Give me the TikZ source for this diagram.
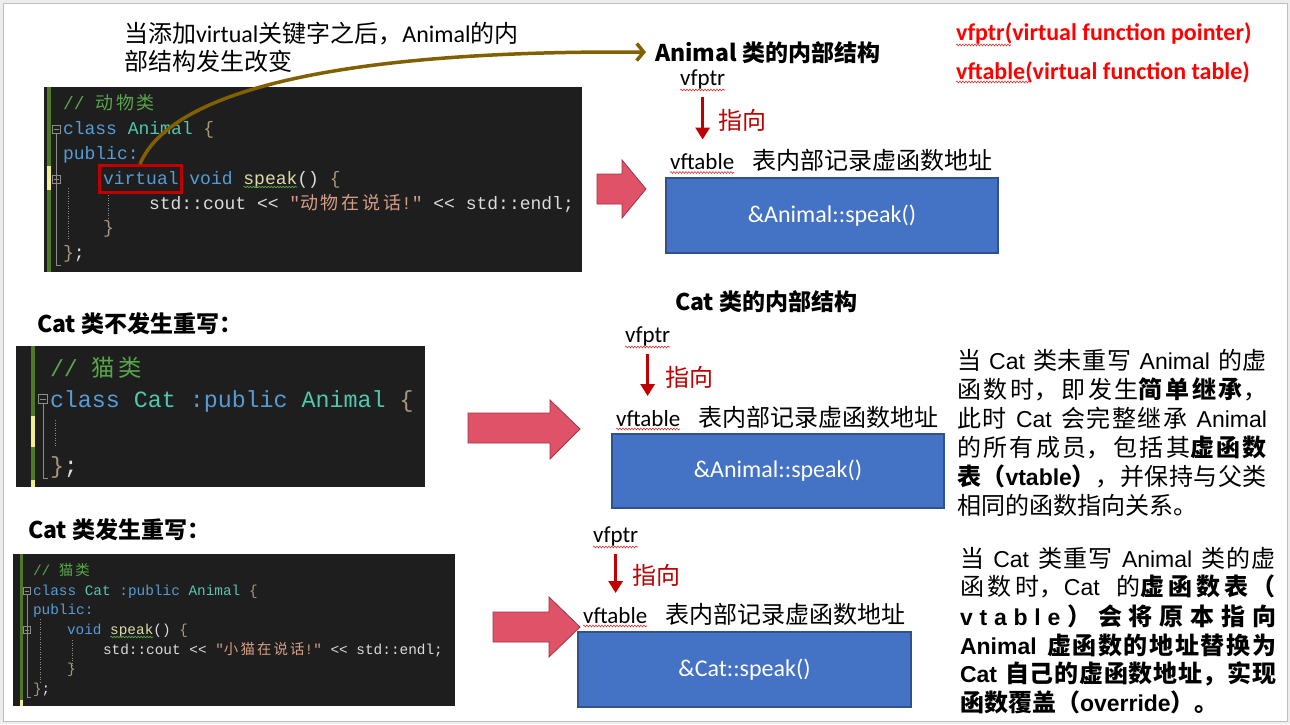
\documentclass[tikz,border=0pt]{standalone}
\usepackage{fontspec}
\usetikzlibrary{arrows.meta,decorations.pathmorphing}
\newfontfamily\zhfont{Noto Sans CJK SC}
\newfontfamily\zhp[Scale=1.0435]{Noto Sans CJK SC}
\newfontfamily\arialf{Liberation Sans}
\newfontfamily\calf{Carlito}
\newfontfamily\monof{Liberation Mono}
\newfontfamily\monozh[LetterSpace=15]{Noto Sans CJK SC}

\definecolor{outerbg}{HTML}{EDEDED}
\definecolor{framegray}{HTML}{BFBFBF}
\definecolor{codebg}{HTML}{1E1E1E}
\definecolor{ccom}{HTML}{57A64A}
\definecolor{ckw}{HTML}{569CD6}
\definecolor{ctype}{HTML}{4EC9B0}
\definecolor{cfun}{HTML}{DCDCAA}
\definecolor{cstr}{HTML}{D69D85}
\definecolor{ctxt}{HTML}{DCDCDC}
\definecolor{cbrace}{HTML}{A8987A}
\definecolor{barGreen}{HTML}{4E7A27}
\definecolor{hlYellow}{HTML}{EFEF91}
\definecolor{foldgray}{HTML}{8C8C8C}
\definecolor{darkred}{HTML}{C00000}
\definecolor{arrowolive}{HTML}{806000}
\definecolor{blockpink}{HTML}{E05268}
\definecolor{blockedge}{HTML}{A33244}
\definecolor{boxblue}{HTML}{4472C4}
\definecolor{boxedge}{HTML}{2F528F}
\definecolor{brightred}{HTML}{FF0000}
\definecolor{squigred}{HTML}{E03030}

\newcommand\zh[1]{{\zhp #1}}
\newcommand\gap{\nobreak\hskip 6pt plus 8pt minus 2.5pt\relax}
\newcommand\jl[2]{\parbox[b]{#1}{\tolerance=10000\relax\XeTeXlinebreaklocale "zh"\XeTeXlinebreakskip=0pt plus 3pt minus 1pt\relax\XeTeXlinebreakpenalty=10000\relax\parfillskip=0pt\relax\noindent #2}}
\newcommand\ckw[1]{\textcolor{ckw}{#1}}
\newcommand\cty[1]{\textcolor{ctype}{#1}}
\newcommand\cbr[1]{\textcolor{cbrace}{#1}}
\newcommand\ccm[1]{\textcolor{ccom}{#1}}
\newcommand\cst[1]{\textcolor{cstr}{#1}}

\tikzset{
  lbl/.style={anchor=base west, inner sep=0pt, outer sep=0pt},
  zhlbl/.style={lbl, font=\zhfont\fontsize{24}{24}\selectfont},
  headlbl/.style={lbl, font=\zhfont\bfseries\fontsize{23}{23}\selectfont},
  vflbl/.style={lbl, font=\calf\fontsize{23}{23}\selectfont},
  pointlbl/.style={lbl, font=\zhfont\fontsize{24}{24}\selectfont, text=darkred},
  redlbl/.style={lbl, font=\calf\bfseries\fontsize{24}{24}\selectfont, text=brightred},
  para/.style={lbl, font=\arialf\fontsize{23}{29}\selectfont},
  codeA/.style={lbl, font=\monof\fontsize{18}{18}\selectfont, text=ctxt},
  codeB/.style={lbl, font=\monof\fontsize{23.3}{23.3}\selectfont, text=ctxt},
  codeC/.style={lbl, font=\monof\fontsize{14.4}{14.4}\selectfont, text=ctxt},
  greenbar/.style={fill=barGreen},
  yellowbar/.style={fill=hlYellow},
  foldbox/.style={draw=foldgray, line width=0.7pt, minimum size=#1, inner sep=0pt,
    path picture={\draw[foldgray, line width=0.7pt] ([xshift=1.5pt]path picture bounding box.west) -- ([xshift=-1.5pt]path picture bounding box.east);}},
  foldline/.style={draw=foldgray, line width=0.7pt},
  guide/.style={draw=foldgray, line width=0.6pt, dash pattern=on 1pt off 1.5pt},
  ptr/.style={draw=darkred, line width=3pt, -{Triangle[length=12pt,width=14pt]}, shorten <=8pt, shorten >=14pt},
  curvearrow/.style={draw=arrowolive, line width=3.5pt, -{Straight Barb[length=7pt,width=17pt]}, shorten >=9pt},
  blockarrow/.style={fill=blockpink, draw=blockedge, line width=0.8pt},
  tablebox/.style={draw=boxedge, line width=1.2pt, fill=boxblue, text=white, font=\calf\fontsize{24}{24}\selectfont, inner sep=0pt},
  sqred/.style={draw=squigred, line width=0.6pt, decorate, decoration={snake, amplitude=0.9pt, segment length=3pt}},
  sqgreen/.style={draw=ccom, line width=0.6pt, decorate, decoration={snake, amplitude=0.8pt, segment length=3pt}},
  virtbox/.style={draw=darkred, line width=3pt, minimum width=82pt, minimum height=27pt, inner sep=0pt}
}

\begin{document}
\begin{tikzpicture}[x=1pt,y=-1pt]
\useasboundingbox (0,0) rectangle (1290,724);
\fill[outerbg] (0,0) rectangle (1290,724);
\draw[framegray, fill=white, line width=1pt] (3,3) rectangle (1287,721);

% ---------- top-left note ----------
\node[zhlbl] (intro1) at (124,42) {当添加{\calf virtual}关键字之后，{\calf Animal}的内};
\node[zhlbl] (intro2) at (124,70) {部结构发生改变};

% ---------- code block 1 ----------
\fill[codebg] (44,87) rectangle (582,272);
\path[greenbar] (47,87) rectangle (51,272);
\path[yellowbar] (47,166) rectangle (51,190);
\node[codeA] (a1) at (63,109) {\ccm{// {\monozh 动物类}}};
\node[codeA] (a2) at (63,134) {\ckw{class} \cty{Animal} \cbr{\{}};
\node[codeA] (a3) at (63,159) {\ckw{public:}};
\node[codeA] (a4) at (103,184) {\ckw{virtual void}};
\node[codeA, text=cfun] (a4s) at ([xshift=10.8pt]a4.base east) {speak};
\node[codeA] (a4r) at (a4s.base east) {() \cbr{\{}};
\node[codeA] (a5) at (149,209) {std::cout << \cst{"{\monozh 动物在说话}!"} << std::endl;};
\node[codeA] (a6) at (103,233) {\cbr{\}}};
\node[codeA] (a7) at (63,258) {\cbr{\}};};
\node[foldbox=8pt] (af1) at (56,129) {};
\node[foldbox=8pt] (af2) at (56,179) {};
\draw[foldline] (af1.south) -- (56,265) -- (61,265);
\draw[guide] (68,188) -- (68,240);
\draw[guide] (108,195) -- (108,218);
\draw[sqgreen] ([yshift=-3pt]a4s.base west) -- ([yshift=-3pt]a4s.base east);
\node[virtbox] (vbox) at (140,179) {};

% ---------- Animal structure ----------
\node[headlbl] (h1) at (655,61) {Animal 类的内部结构};
\draw[curvearrow] (vbox.north) .. controls (172,88) and (350,50) .. (h1.west);
\node[vflbl] (vp1) at (680,85) {vfptr};
\node[pointlbl] (zx1) at (718,129) {指向};
\node[vflbl] (vt1) at (670,169.5) {vftable};
\node[zhlbl] (vd1) at (752,169.5) {表内部记录虚函数地址};
\draw[ptr] (vp1.south) -- (vp1.south |- vt1.north);
\draw[sqred] ([yshift=-5pt]vp1.base west) -- ([yshift=-5pt]vp1.base east);
\draw[sqred] ([yshift=-3pt]vt1.base west) -- ([yshift=-3pt]vt1.base east);
\node[tablebox, minimum width=332pt, minimum height=75pt] (t1) at (832,215.5) {\&Animal::speak()};
\draw[blockarrow] (597,174) -- (622,174) -- (622,160) -- (646,189) -- (622,218) -- (622,204) -- (597,204) -- cycle;

% ---------- top-right red notes ----------
\node[redlbl] (rp1) at (956,40) {vfptr};
\node[redlbl] (rp2) at (rp1.base east) {(virtual function pointer)};
\node[redlbl] (rt1) at (956,79) {vftable};
\node[redlbl] (rt2) at (rt1.base east) {(virtual function table)};
\draw[sqred] ([yshift=-5pt]rp1.base west) -- ([yshift=-5pt,xshift=6pt]rp1.base east);
\draw[sqred] ([yshift=-3pt]rt1.base west) -- ([yshift=-3pt,xshift=6pt]rt1.base east);

% ---------- Cat, no override ----------
\node[headlbl] (l1) at (37,332) {Cat 类不发生重写：};
\fill[codebg] (16,346) rectangle (425,487);
\path[greenbar] (31,346) rectangle (35,487);
\path[yellowbar] (31,416) rectangle (35,447);
\path[yellowbar] (31,480) rectangle (35,487);
\node[codeB] (b1) at (50,376) {\ccm{// {\monozh 猫类}}};
\node[codeB] (b2) at (50,407) {\ckw{class} \cty{Cat} \ckw{:public} \cty{Animal} \cbr{\{}};
\node[codeB] (b3) at (50,473) {\cbr{\}};};
\node[foldbox=9pt] (bf1) at (43,399) {};
\draw[foldline] (bf1.south) -- (43,478) -- (48,478);
\draw[guide] (55,420) -- (55,447);

\node[headlbl] (h2) at (675,310) {Cat 类的内部结构};
\node[vflbl] (vp2) at (625,342) {vfptr};
\node[pointlbl] (zx2) at (665,386) {指向};
\node[vflbl] (vt2) at (616,426) {vftable};
\node[zhlbl] (vd2) at (698,426) {表内部记录虚函数地址};
\draw[ptr] (vp2.south) -- (vp2.south |- vt2.north);
\draw[sqred] ([yshift=-5pt]vp2.base west) -- ([yshift=-5pt]vp2.base east);
\draw[sqred] ([yshift=-3pt]vt2.base west) -- ([yshift=-3pt]vt2.base east);
\node[tablebox, minimum width=332pt, minimum height=74pt] (t2) at (778,471) {\&Animal::speak()};
\draw[blockarrow] (468,413) -- (550,413) -- (550,400) -- (580,429) -- (550,459) -- (550,443) -- (468,443) -- cycle;

\node[para] (p1a) at (957,369) {\jl{310pt}{\zh{当}\gap Cat\gap\zh{类未重写}\gap Animal\gap\zh{的虚}}};
\node[para] (p1b) at (957,398) {\jl{310pt}{\zh{函数时，即发生\textbf{简单继承}，}}};
\node[para] (p1c) at (957,427) {\jl{310pt}{\zh{此时}\gap Cat\gap\zh{会完整继承}\gap Animal}};
\node[para] (p1d) at (957,456) {\jl{310pt}{\zh{的所有成员，包括其\textbf{虚函数}}}};
\node[para] (p1e) at (957,485) {\jl{310pt}{\textbf{\zh{表（}vtable\zh{）}}\zh{，并保持与父类}}};
\node[para] (p1f) at (957,514) {\zh{相同的函数指向关系。}};

% ---------- Cat, override ----------
\node[headlbl] (l2) at (28,538) {Cat 类发生重写：};
\fill[codebg] (13,554) rectangle (455,706);
\path[greenbar] (20,554) rectangle (23,706);
\path[yellowbar] (20,700) rectangle (23,706);
\node[codeC] (c1) at (33,575) {\ccm{// {\monozh 猫类}}};
\node[codeC] (c2) at (33,595.5) {\ckw{class} \cty{Cat} \ckw{:public} \cty{Animal} \cbr{\{}};
\node[codeC] (c3) at (33,614.5) {\ckw{public:}};
\node[codeC] (c4) at (67,634.5) {\ckw{void}};
\node[codeC, text=cfun] (c4s) at ([xshift=8.64pt]c4.base east) {speak};
\node[codeC] (c4r) at (c4s.base east) {() \cbr{\{}};
\node[codeC] (c5) at (103,654.5) {std::cout << \cst{"{\monozh 小猫在说话}!"} << std::endl;};
\node[codeC] (c6) at (67,673.5) {\cbr{\}}};
\node[codeC] (c7) at (33,693.5) {\cbr{\}};};
\node[foldbox=7pt] (cf1) at (27,591) {};
\node[foldbox=7pt] (cf2) at (27,630) {};
\draw[foldline] (cf1.south) -- (27,697) -- (31,697);
\draw[guide] (40,619) -- (40,684);
\draw[guide] (72,640) -- (72,668);
\draw[sqgreen] ([yshift=-2.5pt]c4s.base west) -- ([yshift=-2.5pt]c4s.base east);

\node[vflbl] (vp3) at (593,542) {vfptr};
\node[pointlbl] (zx3) at (632,584) {指向};
\node[vflbl] (vt3) at (583,623) {vftable};
\node[zhlbl] (vd3) at (665,623) {表内部记录虚函数地址};
\draw[ptr] (vp3.south) -- (vp3.south |- vt3.north);
\draw[sqred] ([yshift=-5pt]vp3.base west) -- ([yshift=-5pt]vp3.base east);
\draw[sqred] ([yshift=-3pt]vt3.base west) -- ([yshift=-3pt]vt3.base east);
\node[tablebox, minimum width=333pt, minimum height=75pt] (t3) at (744.5,669.5) {\&Cat::speak()};
\draw[blockarrow] (493,612) -- (549,612) -- (549,597) -- (580,627) -- (549,657) -- (549,642) -- (493,642) -- cycle;

\node[para] (p2a) at (960,567) {\jl{316pt}{\zh{当}\gap Cat\gap\zh{类重写}\gap Animal\gap\zh{类的虚}}};
\node[para] (p2b) at (960,595) {\jl{316pt}{\zh{函数时，}Cat\gap\zh{的\textbf{虚函数表（}}}};
\node[para] (p2c) at (960,625) {\makebox[316pt][s]{\bfseries v\hfill t\hfill a\hfill b\hfill l\hfill e\hfill\zh{）}\hfill\zh{会}\hfill\zh{将}\hfill\zh{原}\hfill\zh{本}\hfill\zh{指}\hfill\zh{向}}};
\node[para] (p2d) at (960,654) {\jl{316pt}{\textbf{Animal\gap\zh{虚函数的地址替换为}}}};
\node[para] (p2e) at (960,682) {\jl{316pt}{\textbf{Cat\gap\zh{自己的虚函数地址，实现}}}};
\node[para] (p2f) at (960,711) {\textbf{\zh{函数覆盖（}override\zh{）。}}};
\end{tikzpicture}
\end{document}
